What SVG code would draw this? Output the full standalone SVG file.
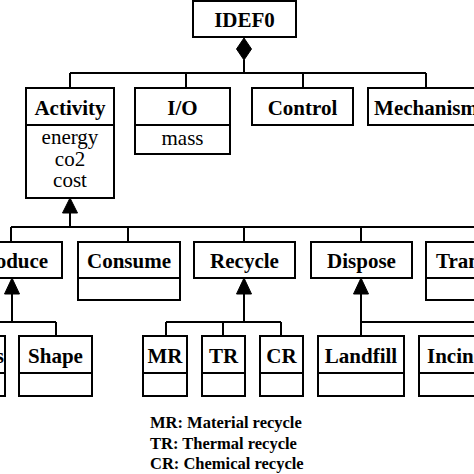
<svg xmlns="http://www.w3.org/2000/svg" width="474" height="474" viewBox="0 0 474 474">
<defs>
<style>
.box{fill:#fff;stroke:#000;stroke-width:2}
.ln{fill:none;stroke:#000;stroke-width:2}
.hd{font-family:"Liberation Serif","Times New Roman",serif;font-weight:bold;font-size:21px;fill:#000;text-anchor:middle}
.at{font-family:"Liberation Serif","Times New Roman",serif;font-size:21px;fill:#000;text-anchor:middle}
.lg{font-family:"Liberation Serif","Times New Roman",serif;font-weight:bold;font-size:16.5px;fill:#000}
.tri{fill:#000;stroke:#000;stroke-width:1}
</style>
</defs>
<rect width="474" height="474" fill="#fff"/>
<g id="connectors">
<path class="ln" d="M244 60V73M70 73H426M70 73V88M186 73V88M303 73V88M426 73V88"/>
<polygon class="tri" points="244,38 251.5,49 244,60 236.5,49"/>
<path class="ln" d="M70 213V227M11 227H480M11 227V242M128 227V242M244 227V242M361 227V242M480 227V242"/>
<polygon class="tri" points="70,198 77.5,213 62.5,213"/>
<path class="ln" d="M12 294V322M-30 322H56M56 322V337M-30 322V337"/>
<polygon class="tri" points="12,278 19.5,294 4.5,294"/>
<path class="ln" d="M244 294V322M166 322H281M166 322V337M223 322V337M281 322V337"/>
<polygon class="tri" points="244,278 251.5,294 236.5,294"/>
<path class="ln" d="M361 294V337M361 322H480"/>
<polygon class="tri" points="361,278 368.5,294 353.5,294"/>
</g>
<g id="idef0">
<rect class="box" x="193" y="1" width="103" height="36"/>
<text class="hd" x="244.5" y="27">IDEF0</text>
</g>
<g id="activity">
<rect class="box" x="26" y="88" width="88" height="110"/>
<path class="ln" d="M26 125H114"/>
<text class="hd" x="70" y="115">Activity</text>
<text class="at" x="70" y="144">energy</text>
<text class="at" x="70" y="166">co2</text>
<text class="at" x="70" y="187">cost</text>
</g>
<g id="io">
<rect class="box" x="135" y="88" width="95" height="66"/>
<path class="ln" d="M135 125H230"/>
<text class="hd" x="182.5" y="115">I/O</text>
<text class="at" x="182.5" y="145">mass</text>
</g>
<g id="control">
<rect class="box" x="252" y="88" width="101" height="37"/>
<text class="hd" x="302.5" y="115">Control</text>
</g>
<g id="mechanism">
<rect class="box" x="368" y="88" width="116" height="37"/>
<text class="hd" x="426" y="115">Mechanism</text>
</g>
<g id="produce">
<rect class="box" x="-40" y="242" width="102" height="36"/>
<text class="hd" x="11" y="268">Produce</text>
</g>
<g id="consume">
<rect class="box" x="78" y="242" width="102" height="58"/>
<path class="ln" d="M78 278H180"/>
<text class="hd" x="129" y="268">Consume</text>
</g>
<g id="recycle">
<rect class="box" x="194" y="242" width="101" height="36"/>
<text class="hd" x="244.5" y="268">Recycle</text>
</g>
<g id="dispose">
<rect class="box" x="311" y="242" width="101" height="36"/>
<text class="hd" x="361.5" y="268">Dispose</text>
</g>
<g id="transport">
<rect class="box" x="426" y="242" width="110" height="58"/>
<path class="ln" d="M426 278H536"/>
<text class="hd" x="436" y="268" style="text-anchor:start">Transport</text>
</g>
<g id="left-sub">
<rect class="box" x="-70" y="336" width="75" height="60"/>
<path class="ln" d="M-70 373H5"/>
<text class="hd" x="4" y="363" style="text-anchor:end">s</text>
</g>
<g id="shape">
<rect class="box" x="19" y="336" width="73" height="60"/>
<path class="ln" d="M19 373H92"/>
<text class="hd" x="55.5" y="363">Shape</text>
</g>
<g id="mr">
<rect class="box" x="143" y="336" width="44" height="60"/>
<path class="ln" d="M143 373H187"/>
<text class="hd" x="165" y="363">MR</text>
</g>
<g id="tr">
<rect class="box" x="202" y="336" width="43" height="60"/>
<path class="ln" d="M202 373H245"/>
<text class="hd" x="223.5" y="363">TR</text>
</g>
<g id="cr">
<rect class="box" x="260" y="336" width="43" height="60"/>
<path class="ln" d="M260 373H303"/>
<text class="hd" x="281.5" y="363">CR</text>
</g>
<g id="landfill">
<rect class="box" x="318" y="336" width="86" height="60"/>
<path class="ln" d="M318 373H404"/>
<text class="hd" x="361" y="363">Landfill</text>
</g>
<g id="incineration">
<rect class="box" x="419" y="336" width="120" height="60"/>
<path class="ln" d="M419 373H539"/>
<text class="hd" x="427" y="363" style="text-anchor:start">Incineration</text>
</g>
<g id="legend">
<text class="lg" x="150" y="428">MR: Material recycle</text>
<text class="lg" x="150" y="449">TR: Thermal recycle</text>
<text class="lg" x="150" y="469">CR: Chemical recycle</text>
</g>
</svg>
